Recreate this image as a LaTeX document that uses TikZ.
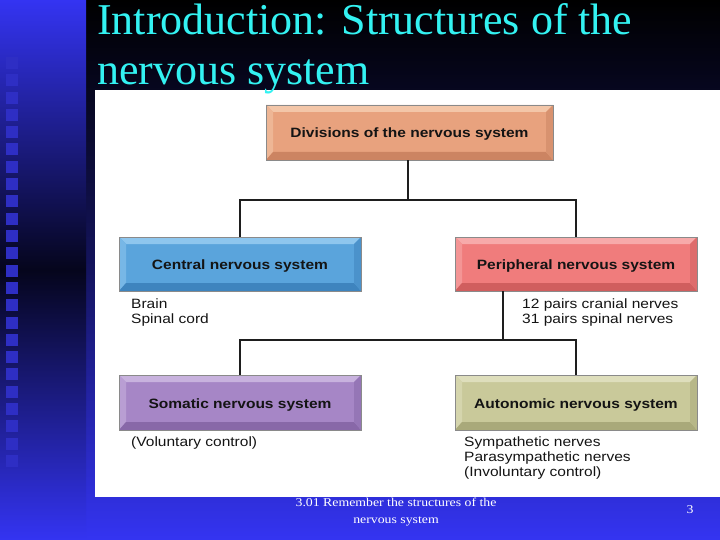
\documentclass[tikz,border=0pt]{standalone}
\usepackage{fontspec}
\setmainfont{Liberation Serif}
\newfontfamily\diagfont[FakeStretch=1.15]{Liberation Sans}
\newfontfamily\slidefont{Liberation Serif}
\newfontfamily\footfont[FakeStretch=1.15]{Liberation Serif}
\definecolor{bgblue}{HTML}{3434F2}
\definecolor{bgnavy}{HTML}{14145E}
\definecolor{stripdark}{HTML}{05051C}
\definecolor{sqcol}{HTML}{2E2EC4}
\definecolor{titlecyan}{HTML}{33F2F2}
\definecolor{boxline}{HTML}{8A8A8A}
\definecolor{boxtext}{HTML}{141414}
\definecolor{linecol}{HTML}{1E1E1E}
\definecolor{orM}{HTML}{E8A27E}
\definecolor{orL}{HTML}{F3C6A8}
\definecolor{orD}{HTML}{CC8462}
\definecolor{blM}{HTML}{5AA4DC}
\definecolor{blL}{HTML}{8EC6EE}
\definecolor{blD}{HTML}{3E84BE}
\definecolor{pkM}{HTML}{F07C7C}
\definecolor{pkL}{HTML}{F7AAAA}
\definecolor{pkD}{HTML}{D05E5E}
\definecolor{puM}{HTML}{A686C6}
\definecolor{puL}{HTML}{C8B2DE}
\definecolor{puD}{HTML}{8868A8}
\definecolor{olM}{HTML}{C9C99A}
\definecolor{olL}{HTML}{DEDEBC}
\definecolor{olD}{HTML}{A9A97A}
\tikzset{
  nbox/.style n args={3}{draw=boxline, line width=0.8pt, fill=#1,
    minimum width=242pt, minimum height=54pt, inner sep=0pt,
    text height=11pt, text depth=0pt,
    font=\diagfont\bfseries\fontsize{13.5}{15}\selectfont, text=boxtext,
    path picture={
      \fill[#2] (path picture bounding box.north west) -- (path picture bounding box.north east)
        -- ([shift={(-7,7)}]path picture bounding box.north east) -- ([shift={(7,7)}]path picture bounding box.north west) -- cycle;
      \fill[#2!55!#1] (path picture bounding box.north west) -- ([shift={(7,7)}]path picture bounding box.north west)
        -- ([shift={(7,-8)}]path picture bounding box.south west) -- (path picture bounding box.south west) -- cycle;
      \fill[#3] (path picture bounding box.south west) -- ([shift={(7,-8)}]path picture bounding box.south west)
        -- ([shift={(-7,-8)}]path picture bounding box.south east) -- (path picture bounding box.south east) -- cycle;
      \fill[#3!55!#1] (path picture bounding box.north east) -- ([shift={(-7,7)}]path picture bounding box.north east)
        -- ([shift={(-7,-8)}]path picture bounding box.south east) -- (path picture bounding box.south east) -- cycle;
    }},
  subtext/.style={anchor=north west, inner sep=0pt, align=left, text=boxtext,
    font=\diagfont\fontsize{13.5}{15}\selectfont},
  conn/.style={draw=linecol, line width=2.2pt},
  titletext/.style={anchor=base west, inner sep=0pt, text=titlecyan,
    font=\slidefont\fontsize{44}{50}\selectfont},
  foottext/.style={inner sep=0pt, text=white, align=center,
    font=\footfont\fontsize{12}{17}\selectfont}
}
\begin{document}
\begin{tikzpicture}[x=1pt,y=-1pt]
\useasboundingbox (0,0) rectangle (720,540);
% background
\shade[top color=black, bottom color=bgblue, middle color=bgnavy] (86,0) rectangle (720,540);
\shade[top color=bgblue, bottom color=bgblue, middle color=stripdark] (0,0) rectangle (86,540);
\foreach \i in {0,...,23} {
  \fill[sqcol] (6,{57+17.3*\i}) rectangle (18,{69+17.3*\i});
}
% panel
\fill[white] (95,90) rectangle (720,497);
% title
\node[titletext] (title1) at (97,35) {Introduction: Structures of the};
\node[titletext] (title2) at (97,85) {nervous system};
% boxes
\node[nbox={orM}{orL}{orD}, minimum width=287pt, minimum height=55pt] (div) at (409.5,132.5) {Divisions of the nervous system};
\node[nbox={blM}{blL}{blD}] (cns) at (240,264) {Central nervous system};
\node[nbox={pkM}{pkL}{pkD}] (pns) at (576,264) {Peripheral nervous system};
\node[nbox={puM}{puL}{puD}, minimum height=55pt] (sns) at (240,402.5) {Somatic nervous system};
\node[nbox={olM}{olL}{olD}, minimum height=55pt] (ans) at (576,402.5) {Autonomic nervous system};
% connectors
\coordinate (j1) at (408,200);
\coordinate (j2) at (503,340);
\draw[conn] (div.south -| j1) -- (j1);
\draw[conn] (cns.north) |- (j1) -| (pns.north);
\draw[conn] (pns.south -| j2) -- (j2);
\draw[conn] (sns.north) |- (j2) -| (ans.north);
% sub texts
\node[subtext] (cnst) at (131,299) {Brain\\Spinal cord};
\node[subtext] (pnst) at (522,299) {12 pairs cranial nerves\\31 pairs spinal nerves};
\node[subtext] (snst) at (131,437) {(Voluntary control)};
\node[subtext] (anst) at (464,437) {Sympathetic nerves\\Parasympathetic nerves\\(Involuntary control)};
% footer
\node[foottext, anchor=north] (foot) at (396,498) {3.01 Remember the structures of the\\nervous system};
\node[foottext] (pagenum) at (690,510) {3};
\end{tikzpicture}
\end{document}
